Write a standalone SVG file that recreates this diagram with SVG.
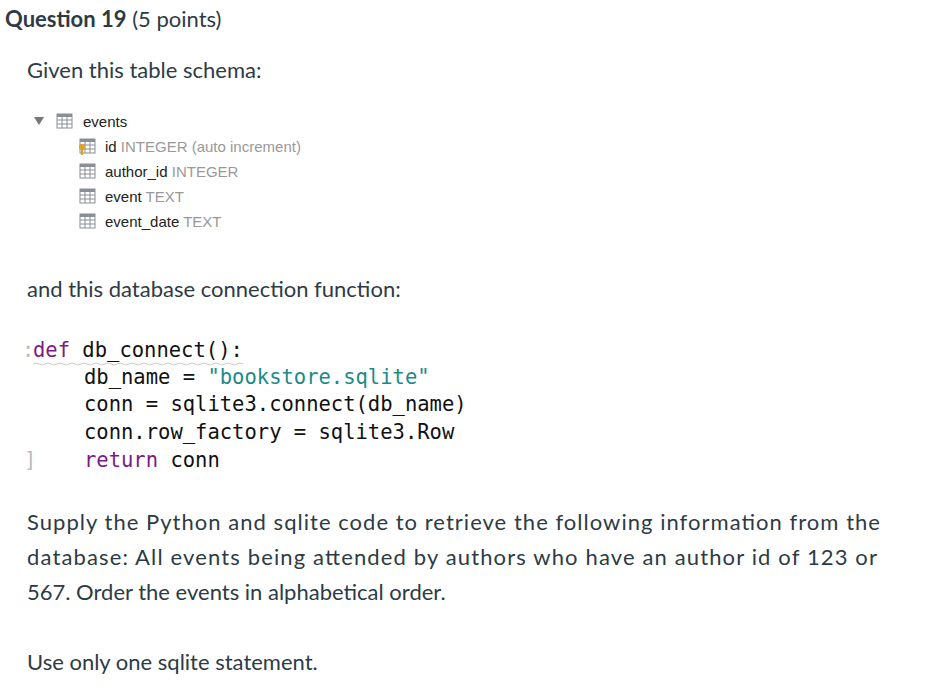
<svg xmlns="http://www.w3.org/2000/svg" width="943" height="689" viewBox="0 0 943 689">
<style>
.t{font-family:Lato,"Liberation Sans",sans-serif;font-size:22px;fill:#2d3b45}
.s{font-family:"Helvetica Neue","Liberation Sans",Arial,sans-serif;font-size:15px;fill:#222}
.g{fill:#999}
.c{font-family:"DejaVu Sans Mono","Liberation Mono",monospace;font-size:20.5px;fill:#111}
.ic{fill:#fff;stroke:#8a8f95;stroke-width:1}
</style>
<defs>
<g id="tbl"><rect class="ic" x="0" y="0" width="15" height="14"/><rect x="0" y="0" width="15" height="3" fill="#8a8f95"/><path d="M5 0V14M10 0V14M0 6H15M0 10H15" stroke="#8a8f95" stroke-width="1"/></g>
</defs>
<rect width="943" height="689" fill="#fff"/>
<text x="5" y="27" class="t"><tspan font-weight="bold">Question 19</tspan> (5 points)</text>
<text x="27" y="78" class="t">Given this table schema:</text>
<path d="M34 117h10l-5 8z" fill="#777"/>
<use href="#tbl" x="57" y="114"/>
<text x="83" y="127" class="s">events</text>
<use href="#tbl" x="80" y="139"/><circle cx="82" cy="147" r="3" fill="#e0a020"/><rect x="81" y="148" width="2" height="7" fill="#e0a020"/>
<text x="105" y="152" class="s">id <tspan class="g">INTEGER (auto increment)</tspan></text>
<use href="#tbl" x="80" y="164"/>
<text x="105" y="177" class="s">author_id <tspan class="g">INTEGER</tspan></text>
<use href="#tbl" x="80" y="189"/>
<text x="105" y="202" class="s">event <tspan class="g">TEXT</tspan></text>
<use href="#tbl" x="80" y="214"/>
<text x="105" y="227" class="s">event_date <tspan class="g">TEXT</tspan></text>
<text x="27" y="297" class="t">and this database connection function:</text>
<text x="22" y="357" class="c" fill="#bbb" style="fill:#bbb">:</text>
<path d="M33 364q3 -2 6 0t6 0t6 0t6 0t6 0t6 0t6 0t6 0t6 0t6 0t6 0t6 0t6 0t6 0t6 0t6 0t6 0t6 0t6 0t6 0t6 0t6 0t6 0t6 0t6 0t6 0t6 0t6 0t6 0t6 0t6 0t6 0t6 0t6 0t6 0" stroke="#ccc" fill="none"/>
<text x="33" y="357" class="c"><tspan fill="#7a1a8a" style="fill:#7a1a8a">def</tspan> db_connect():</text>
<text x="84" y="384" class="c">db_name = <tspan style="fill:#1a8a8a">"bookstore.sqlite"</tspan></text>
<text x="84" y="411" class="c">conn = sqlite3.connect(db_name)</text>
<text x="84" y="439" class="c">conn.row_factory = sqlite3.Row</text>
<text x="24" y="467" class="c" style="fill:#bbb">]</text>
<text x="84" y="467" class="c"><tspan style="fill:#7a1a8a">return</tspan> conn</text>
<text x="27" y="530" class="t" textLength="853">Supply the Python and sqlite code to retrieve the following information from the</text>
<text x="27" y="565" class="t" textLength="850">database:  All events being attended by authors who have an author id of 123 or</text>
<text x="27" y="600" class="t">567.  Order the events in alphabetical order.</text>
<text x="27" y="670" class="t">Use only one sqlite statement.</text>
</svg>
